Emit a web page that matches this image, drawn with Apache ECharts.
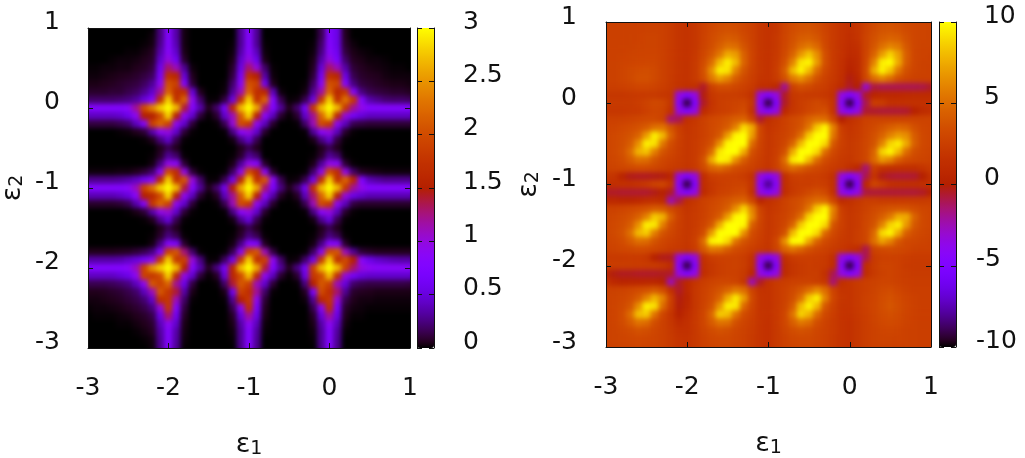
<!DOCTYPE html>
<html>
<head>
<meta charset="utf-8">
<title>eps1 eps2 maps</title>
<script src="https://cdn.jsdelivr.net/npm/echarts@6/dist/echarts.min.js"></script>
<style>
    body { margin: 0; background: #fff; }
    #clip {
        position: absolute; left: 0; top: 0; width: 1025px; height: 458px;
        clip-path: path('M88 28H410V348H88Z M606 22H931V347H606Z');
        background: linear-gradient(90deg, #000 0 500px, #c43700 500px);
    }
    #heat { width: 1025px; height: 458px; filter: blur(2.5px); }
    #main { position: absolute; left: 0; top: 0; width: 1025px; height: 458px; }
</style>
</head>
<body>
<div id="clip"><div id="heat"></div></div>
<div id="main"></div>
<script>
// rows run from eps2 = 1 (top) to eps2 = -3, columns from eps1 = -3 to eps1 = 1, step 0.1
const leftRows = [
[0,0,0,0,0,0,0,0,0,.25, .8,.35,.03,0,0,0,0,0,0,.3, .8,.3,0,0,0,0,0,0,0,.15, .75,.55,.05,0,0,0,0,0,0,0, 0],
[0,0,0,0,0,0,0,0,.02,.25, .8,.35,.03,0,0,0,0,0,0,.3, .8,.3,0,0,0,0,0,0,0,.15, .75,.55,.06,0,0,0,0,0,0,0, 0],
[0,0,0,0,0,0,0,.01,.03,.28, .8,.38,.03,0,0,0,0,0,.01,.3, .8,.3,.01,0,0,0,0,0,.01,.2, .8,.55,.08,.02,0,0,0,0,0,0, 0],
[0,0,0,0,0,.01,.01,.03,.06,.35, .85,.45,.04,0,0,0,0,0,.02,.35, .85,.4,.02,0,0,0,0,0,.02,.25, .85,.6,.12,.04,.02,.01,0,0,0,0, 0],
[0,0,0,.01,.02,.02,.03,.05,.08,.45, 1,.6,.08,0,0,0,0,0,.04,.45, 1,.55,.04,0,0,0,0,0,.04,.35, 1,.7,.2,.06,.04,.02,.02,.01,0,0, 0],
[.01,.01,.02,.02,.03,.03,.05,.07,.12,.6, 1.3,1.1,.3,.02,0,0,0,0,.08,.55, 1.3,1,.2,.01,0,0,0,0,.06,.5, 1.3,1.1,.35,.1,.06,.04,.03,.02,.01,.01, 0],
[.02,.02,.03,.04,.05,.06,.08,.12,.18,.7, 1.7,1.6,.5,.05,0,0,0,0,.12,.7, 1.7,1.5,.35,.02,0,0,0,0,.1,.65, 1.7,1.6,.55,.15,.08,.06,.05,.03,.02,.02, .02],
[.04,.04,.05,.06,.08,.1,.12,.18,.3,.9, 2.05,1.9,.75,.1,0,0,0,.01,.2,.85, 2.05,1.9,.6,.05,0,0,0,.01,.18,.85, 2.05,1.95,.8,.25,.12,.09,.07,.05,.04,.04, .03],
[.08,.08,.08,.1,.1,.14,.18,.28,.45,1.2, 2.2,1.7,1.7,.5,.05,0,0,.02,.3,1.1, 2.2,1.7,1.6,.4,.02,0,0,.03,.3,1.15, 2.2,1.6,1.8,.8,.25,.15,.12,.1,.08,.08, .06],
[.2,.2,.2,.2,.22,.25,.32,.5,.8,1.7, 2.8,1.7,2.2,.9,.2,.01,.01,.12,.55,1.7, 2.8,1.7,2.2,.8,.15,.01,.02,.15,.55,1.8, 2.8,1.7,2.3,1.8,.8,.35,.28,.22,.2,.2, .18],
[.78,.8,.8,.8,.8,.85,1.2,2,2.4,2.8, 3,2.7,1.4,.8,.35,.05,.2,.65,1.6,2.7, 3,2.6,1.3,.75,.3,.05,.2,.65,1.8,2.7, 3,2.7,1.8,1.2,.95,.8,.8,.8,.8,.8, .8],
[.42,.42,.42,.42,.45,.55,.9,1.5,1.5,2, 2.8,1.5,.9,.45,.1,.01,.08,.45,1.1,2.1, 2.8,1.5,.85,.4,.08,.01,.08,.45,1.2,2.2, 2.8,1.6,1,.65,.5,.42,.42,.42,.42,.42, .42],
[.12,.12,.12,.12,.15,.2,.4,.8,1.9,2.2, 1.9,.9,.45,.1,0,0,.01,.15,1,2, 1.8,.9,.4,.08,0,0,.01,.2,1.1,2, 1.8,.9,.4,.15,.12,.1,.1,.1,.1,.1, .1],
[0,0,0,0,.01,.02,.05,.1,.35,.9, 1,.45,.1,.01,0,0,0,.01,.25,.85, 1,.45,.08,0,0,0,0,.01,.3,.85, 1,.4,.08,.01,0,0,0,0,0,0, 0],
[0,0,0,0,0,0,0,.01,.05,.25, .45,.15,.01,0,0,0,0,0,.03,.25, .45,.15,0,0,0,0,0,0,.04,.25, .45,.12,.01,0,0,0,0,0,0,0, 0],
[0,0,0,0,0,0,0,0,0,.05, .15,.05,0,0,0,0,0,0,0,.05, .15,.05,0,0,0,0,0,0,0,.05, .15,.05,0,0,0,0,0,0,0,0, 0],
[0,0,0,0,0,0,0,0,.01,.08, .3,.2,.01,0,0,0,0,0,.01,.08, .3,.2,0,0,0,0,0,0,.01,.08, .3,.2,.01,0,0,0,0,0,0,0, 0],
[0,0,0,0,0,0,0,0,.03,.25, .95,.85,.1,0,0,0,0,0,.04,.3, .95,.8,.08,0,0,0,0,0,.04,.3, .95,.85,.1,.01,0,0,0,0,0,0, 0],
[.02,.02,.02,.02,.03,.03,.05,.1,.2,.85, 2,1.7,.95,.1,.01,0,0,.01,.18,.9, 2,1.6,.85,.08,0,0,0,.01,.2,.9, 2,1.7,.95,.2,.06,.04,.03,.02,.02,.02, .02],
[.28,.28,.28,.28,.3,.34,.42,.6,.85,1.6, 2.8,1.7,2.1,1,.2,.01,.01,.15,.6,1.6, 2.8,1.7,2.1,.85,.15,.01,.02,.15,.6,1.7, 2.8,1.7,2.2,1.6,.75,.38,.32,.28,.28,.28, .28],
[.78,.8,.8,.8,.8,.85,1.1,1.9,2.3,2.8, 3,2.7,1.4,.8,.3,.05,.2,.6,1.5,2.6, 3,2.6,1.3,.7,.25,.05,.2,.6,1.7,2.7, 3,2.7,1.8,1.2,.95,.8,.8,.8,.8,.8, .8],
[.38,.38,.38,.38,.42,.5,.85,1.5,1.6,2, 2.8,1.5,.9,.4,.08,.01,.06,.4,1.2,2.1, 2.8,1.5,.85,.35,.06,.01,.06,.4,1.3,2.2, 2.8,1.5,1,.55,.45,.38,.38,.38,.38,.38, .38],
[.08,.08,.08,.08,.1,.15,.35,.8,1.8,2.2, 1.9,.9,.45,.1,0,0,.01,.15,1.1,2, 1.8,.9,.4,.08,0,0,.01,.15,1.1,2, 1.8,.9,.4,.12,.08,.08,.08,.08,.08,.08, .08],
[0,0,0,0,0,.01,.04,.1,.35,.95, 1.05,.45,.1,.01,0,0,0,.01,.25,.85, 1,.45,.08,0,0,0,0,.01,.25,.85, 1,.4,.08,.01,0,0,0,0,0,0, 0],
[0,0,0,0,0,0,0,.01,.05,.28, .5,.15,.01,0,0,0,0,0,.03,.28, .5,.15,.01,0,0,0,0,0,.03,.28, .5,.15,.01,0,0,0,0,0,0,0, 0],
[0,0,0,0,0,0,0,0,0,.05, .15,.05,0,0,0,0,0,0,0,.05, .15,.05,0,0,0,0,0,0,0,.05, .15,.05,0,0,0,0,0,0,0,0, 0],
[0,0,0,0,0,0,0,0,.01,.08, .25,.15,.01,0,0,0,0,0,.01,.08, .25,.15,.01,0,0,0,0,0,.01,.08, .25,.15,.01,0,0,0,0,0,0,0, 0],
[0,0,0,0,0,0,0,0,.03,.25, .8,.7,.08,0,0,0,0,0,.03,.25, .8,.7,.06,0,0,0,0,0,.03,.25, .8,.75,.08,0,0,0,0,0,0,0, 0],
[.05,.05,.05,.05,.06,.07,.1,.15,.25,.75, 1.9,2.1,1.25,.2,.01,0,0,.01,.15,.85, 1.9,2.1,1.1,.12,0,0,0,.01,.18,.85, 2,2.1,1.1,.3,.1,.07,.05,.05,.05,.05, .05],
[.34,.34,.34,.34,.36,.42,.5,.65,.9,1.8, 2.8,1.8,1.9,1,.25,.01,.01,.18,.6,1.8, 2.8,1.7,1.9,.9,.2,.01,.02,.2,.6,1.8, 2.8,1.7,2,1.5,.85,.55,.45,.4,.36,.34, .34],
[.8,.8,.8,.8,.8,.85,1.1,1.9,2.5,2.8, 3,2.7,1.5,.8,.35,.06,.25,.65,1.6,2.7, 3,2.6,1.4,.75,.3,.06,.25,.65,1.9,2.7, 3,2.7,1.9,1.3,1,.9,.85,.85,.85,.85, .85],
[.42,.42,.42,.42,.48,.55,.9,1.9,1.8,2, 2.8,1.6,.95,.45,.1,.01,.06,.5,1.6,2, 2.7,1.6,.9,.4,.08,.01,.08,.55,1.8,2, 2.7,1.7,1,.65,.5,.45,.45,.45,.45,.45, .45],
[.15,.15,.15,.17,.2,.25,.4,.9,2.1,1.9, 2.2,1.2,.55,.12,0,0,.01,.2,1.4,2.1, 1.9,1.1,.45,.1,0,0,.01,.25,1.5,2.1, 1.9,1.1,.5,.2,.15,.13,.13,.13,.13,.13, .12],
[.05,.05,.06,.08,.1,.14,.2,.4,1.1,2.1, 1.8,1.4,.35,.04,0,0,0,.04,.6,1.9, 1.7,1.2,.2,.01,0,0,0,.06,.7,2, 1.7,1.3,.3,.08,.06,.05,.04,.04,.04,.04, .04],
[.03,.03,.04,.05,.07,.1,.14,.22,.45,1.7, 1.8,1.1,.2,.01,0,0,0,.01,.3,1.5, 1.8,.9,.1,0,0,0,0,.02,.3,1.6, 1.8,1,.15,.05,.03,.03,.02,.02,.02,.02, .02],
[.01,.02,.02,.03,.04,.06,.09,.14,.25,1, 1.8,.8,.12,0,0,0,0,0,.15,.85, 1.7,.7,.06,0,0,0,0,0,.15,.85, 1.7,.7,.08,.03,.02,.01,.01,.01,.01,.01, .01],
[0,.01,.01,.01,.02,.03,.05,.08,.14,.55, 1.3,.6,.07,0,0,0,0,0,.07,.5, 1.2,.55,.04,0,0,0,0,0,.07,.5, 1.2,.55,.05,.01,.01,0,0,0,0,0, 0],
[0,0,0,0,.01,.01,.03,.05,.09,.4, .9,.45,.04,0,0,0,0,0,.04,.35, .9,.4,.02,0,0,0,0,0,.04,.35, .9,.4,.03,0,0,0,0,0,0,0, 0],
[0,0,0,0,0,0,.01,.03,.06,.33, .8,.35,.03,0,0,0,0,0,.02,.3, .8,.32,.01,0,0,0,0,0,.02,.3, .8,.32,.01,0,0,0,0,0,0,0, 0],
[0,0,0,0,0,0,0,.01,.03,.3, .8,.33,.02,0,0,0,0,0,.01,.3, .8,.3,0,0,0,0,0,0,.01,.3, .8,.3,0,0,0,0,0,0,0,0, 0],
[0,0,0,0,0,0,0,0,.02,.28, .8,.3,.01,0,0,0,0,0,0,.28, .8,.28,0,0,0,0,0,0,0,.28, .8,.28,0,0,0,0,0,0,0,0, 0]
];

const rightRows = [
[2.6,2.6,2.6,2.6,2.6,2.6,2.6,2.5,2.3,1.9, 1.7,2,2.6,3,3.3,3.4,3.3,3,2.6,2, 1.7,2,2.8,3.3,3.6,3.6,3.3,2.8,2.3,1.8, 1.5,1.9,2.7,3.2,3.6,3.7,3.5,3.2,3,2.9, 2.8],
[2.6,2.6,2.6,2.6,2.7,2.7,2.7,2.6,2.3,1.9, 1.7,2,2.6,3.1,3.5,3.6,3.5,3,2.6,2, 1.7,2,2.8,3.4,3.7,3.8,3.5,2.9,2.3,1.8, 1.5,1.9,2.7,3.3,3.8,3.9,3.7,3.3,3,2.9, 2.8],
[2.6,2.6,2.6,2.7,2.7,2.8,2.8,2.6,2.3,1.9, 1.7,2,2.7,3.3,3.8,4.2,4,3.3,2.7,2, 1.7,2.1,2.9,3.6,4.2,4.4,3.9,3,2.3,1.8, 1.4,1.8,2.8,3.6,4.2,4.6,4.4,3.6,3,2.9, 2.8],
[2.6,2.6,2.7,2.7,2.8,2.8,2.8,2.6,2.3,1.9, 1.7,2,2.8,3.5,4.4,5.2,5,3.8,2.8,2, 1.7,2.1,3,3.9,5,5.6,4.8,3.2,2.3,1.7, 1.2,1.5,2.8,3.9,5.2,6,5.6,4,3,2.8, 2.8],
[2.6,2.7,2.7,2.8,2.9,2.9,2.9,2.7,2.3,1.9, 1.7,2.1,3,4,5.5,7.5,7,4.5,2.9,2, 1.7,2.2,3.2,4.6,6.8,8.3,6.5,3.6,2.3,1.7, 1,1.2,2.9,4.6,7,8.8,7.2,4.4,3,2.8, 2.7],
[2.6,2.7,2.8,2.9,3,3,3,2.7,2.3,1.9, 1.7,2.2,3.3,5,8,9.6,8,4.6,2.9,2, 1.7,2.3,3.6,6,9.3,9.8,7,3.6,2.3,1.6, .6,1,3,6,9.6,10,7.5,4.2,3,2.7, 2.7],
[2.6,2.7,2.9,3.2,3.4,3.5,3.2,2.7,2.3,1.9, 1.7,2.2,3.6,6.5,9.6,9.3,6,3.8,2.7,2, 1.7,2.4,4.2,8,9.8,8,5,3.1,2.2,1.5, .3,.9,3.2,7.5,9.7,8.3,5.5,3.6,2.9,2.7, 2.6],
[2.6,2.7,2.9,3.2,3.6,3.6,3.2,2.7,2.2,1.8, 1.7,2.2,3.4,5.5,7,6,4.2,3.2,2.5,1.9, 1.7,2.3,3.6,5.6,6.5,5.2,3.6,2.7,2.1,1.4, -.2,.6,3,5,6,5,3.6,3,2.7,2.6, 2.6],
[2.5,2.5,2.6,2.8,3,3,2.8,2.5,2.1,1.7, 1.5,1.5,-.5,2.6,3.4,3.4,3,2.6,2.2,1.4, 1.3,.8,-2,2.7,3.5,3.2,2.7,2.4,1.8,1, -.5,0,-3,-.8,-1,-1,-1,-1,-1,-.9, -.5],
[2,2,2,2.1,2.2,2.2,2.2,2,1.8,-3.5, -5,-3.5,-.2,2,2.4,2.4,2.4,2.2,1.6,-3.5, -5,-3.5,-.5,2,2.3,2.2,2.2,2,1.6,-3.5, -5,-3.5,-.5,.5,.8,.8,.8,.9,1,1, 1],
[2.2,2.2,2.2,2.2,2.4,2.8,3.2,3,2,-4.5, -9,-5,-.5,1.8,2.4,2.6,2.8,3,2,-4.5, -9,-5,-.5,1.9,2.4,2.8,3.2,2.8,1.8,-4.5, -9,-5,-1,2.5,2.4,1.6,1.6,1.6,1.6,1.6, 1.6],
[2,2,2,2.1,2.2,2.6,3,2.8,1.6,-3.5, -5,-3.5,1,2,2.4,2.6,3,3.4,1.6,-3.5, -5,-3.5,.8,2,2.4,3,3.4,3.6,1.8,-3.5, -5,-3.5,-.6,-.6,-.7,-.7,-.7,-.6,.2,1, 1.4],
[2.6,2.6,2.7,2.8,3,3.2,3.2,2.8,-1.5,-1, 1.5,2,2.6,3.1,3.4,3.8,4.4,4.6,2.8,-.6, 1.4,2,2.6,3.2,3.6,4.6,5.2,5,3,0, 1.4,2,2.6,2.8,2.8,2.8,2.8,2.8,2.8,2.8, 2.8],
[2.8,2.9,3.1,3.4,3.7,4.2,5.2,5.4,3.8,2.4, 1.9,2.2,2.6,3.2,3.6,4.2,6,9,7.5,3, 1.8,2.2,2.6,3.2,3.8,5.5,8.5,9.8,6,2.4, 1.8,2.2,2.8,3.2,3.8,4.4,4.8,4.6,3.6,3, 2.9],
[2.9,3.1,3.4,3.8,4.6,7,9.6,8,4.5,2.6, 2,2.2,2.6,3.2,4,7,9.8,10,7,3, 2,2.4,2.8,3.4,5,8.5,10,10,5.5,2.6, 2,2.3,2.9,3.6,4.6,6,7,6.5,4.2,3.1, 2.9],
[2.9,3.1,3.5,4.2,6.5,9.6,9.2,5.5,3.4,2.5, 2,2.3,2.8,3.6,6.5,9.8,10,10,5,2.8, 2,2.4,3,4.6,8,10,10,9,4,2.6, 2.1,2.4,3,3.8,6,8.8,9.6,7.5,4.4,3.1, 2.9],
[2.9,3.1,3.6,5,7.8,8.3,5.8,3.8,3,2.4, 2,2.3,3,5,9.4,10,10,7.5,3.6,2.6, 2,2.5,3.6,7.5,10,10,9,5,3.2,2.4, 2.1,2.4,3,4.6,8.8,9.8,8,5,3.5,3, 2.8],
[2.8,3,3.4,4.2,5.2,5,3.8,3,2.6,2.3, 2,2.3,3.6,7.5,9.8,9.5,6.5,4.2,3,2.4, 2,2.6,5,9.5,10,8,5,3.4,2.7,2.2, 2,2.4,3,4.8,6.8,6,4.2,3.4,3,2.8, 2.7],
[2.7,2.8,3,3.2,3.4,3.3,3,2.7,2.3,2.1, 1.9,2.2,3.2,4.6,5,4.2,3.4,3,2.6,2.2, 1.9,2.6,4,5,4.4,3.6,3.1,2.7,2.3,2, 1.4,.8,-1.5,2.4,1.6,1.4,1.4,1.4,1.4,1.8, 2.2],
[2,1.8,.5,-.3,-.4,-.4,-.3,-.2,.5,-3.5, -5,-3.5,1.2,2.4,2.6,2.6,2.6,2.3,1.6,-3.5, -5,-3.5,1.4,2.5,2.6,2.5,2.5,2.2,1.5,-3.5, -5,-3.5,-1,1.8,-.3,-.6,-.7,-.7,-.6,0, 1.5],
[1.2,1.4,1.6,1.6,1.8,2.2,2.8,3,1.8,-4.5, -9,-5,1.2,2,2.4,2.6,2.8,2.8,1.8,-4.5, -8,-4.5,1.2,2.2,2.4,2.4,2.6,2.4,1.6,-4.5, -9,-5,.8,3,2.4,1.6,1.4,1.4,1.4,1.5, 1.6],
[-.5,-.5,-.6,-.6,-.6,-.6,-.3,.2,-.5,-3.5, -5,-3.5,1,2,2.6,2.8,3.2,3.4,1.6,-3.5, -5,-3.5,1.2,2.2,2.6,3.2,3.6,3.2,1.6,-3.5, -5,-3.5,-.8,-.7,-.7,-.7,-.7,-.7,-.7,-.5, .2],
[.8,.8,.6,.6,.8,1.2,1.4,1,-2.5,-1, 1.4,2,2.6,3,3.4,3.8,4.4,4.6,3,.5, 1.5,2,2.6,3.2,3.6,4.4,5,4.8,3,1, 1.5,2,2.4,2.4,2.3,2.3,2.3,2.3,2.3,2.3, 2.4],
[2.6,2.7,2.9,3.1,3.4,3.7,4.2,4,3.2,2.4, 1.9,2.2,2.6,3.2,3.6,4.4,6.5,8.8,6,2.8, 1.9,2.2,2.7,3.2,3.8,5.5,8.6,9.8,6,2.5, 1.9,2.2,2.7,3.1,3.5,3.8,3.9,3.8,3.4,3, 2.9],
[2.8,3,3.3,3.7,4.5,6,8.5,7.8,4.4,2.6, 2,2.3,2.7,3.3,4.2,7,9.8,10,6.5,3, 2,2.4,2.8,3.5,5,8.8,10,10,5.5,2.6, 2,2.3,2.9,3.5,4.4,5.6,7.6,7.5,4.6,3.2, 2.9],
[2.9,3.1,3.5,4.2,6.5,9.6,9.4,5.8,3.4,2.5, 2,2.3,2.9,4,7.5,10,10,9.8,4.4,2.8, 2,2.4,3,4.6,8.5,10,10,9,3.8,2.6, 2,2.3,3,3.8,6,8.8,9.6,6.8,4,3.1, 2.9],
[2.9,3.2,3.7,5.2,8,8.6,5.8,3.8,3,2.4, 2,2.4,3.4,7,10,10,10,6.5,3.4,2.6, 2,2.5,3.6,8,10,10,9,4.8,3.2,2.4, 2,2.4,3,4.8,9,9.8,7.5,4.4,3.4,3, 2.8],
[2.8,3,3.4,4.2,5.2,5,3.8,3,2.6,2.3, 2,2.6,5,9.8,10,9,5.4,3.8,3,2.4, 2,3,6.5,10,10,7.4,4.6,3.3,2.7,2.2, 2,2.4,3,5.2,7.2,6,4,3.2,3,2.8, 2.7],
[2.7,2.8,3,3.2,3.4,3.3,3,2.7,2.3,2.1, 1.9,2.4,4,5.6,5.4,4.2,3.4,3,2.5,2.1, 1.9,2.8,4.6,5.4,4.6,3.6,3,2.7,2.3,2, 1.6,1.2,-1,2.8,3.2,3.4,3.2,3,2.7,2.6, 2.6],
[2.2,2.2,2.2,2.3,2.3,2,.2,-.3,-.4,-3.5, -5,-3.5,1.6,2.4,2.6,2.7,2.7,2.4,1.6,-3.5, -5,-3.5,1.4,2.3,2.5,2.5,2.4,2.2,1.4,-3.5, -5,-3.5,-1,2.2,2.6,2.7,2.6,2.4,2.3,2.3, 2.3],
[2.4,2.4,2.4,2.4,2.4,2.3,2.3,2,1.2,-4.5, -9,-5,1.4,2,2.4,2.6,2.7,2.4,1.4,-4.5, -9,-5,1,1.9,2.2,2.4,2.3,2.1,1.2,-4.5, -9,-5,1.2,2.3,2.8,2.9,2.6,2.3,2.2,2.2, 2.2],
[.5,-.2,-.4,-.4,-.5,-.5,-.5,-.4,-.5,-3.5, -5,-3.5,1.2,2,2.4,2.6,2.6,2.2,.8,-3.5, -5,-3.5,1,1.9,2.2,2.4,2.4,1.6,-1,-3.5, -5,-3.5,1.2,2.2,2.7,2.9,2.6,2.4,2.3,2.3, 2.3],
[1.6,.8,.4,.5,.5,.6,.6,.2,-2.5,-.5, .8,1.8,2.4,2.8,3,3,2.8,2,-2.5,-.5, 1.6,2.2,2.4,2.6,2.7,2.7,2.4,2,-1.5,1.4, 1.8,2.2,2.5,2.7,2.9,2.9,2.7,2.5,2.4,2.4, 2.4],
[2.6,2.7,2.8,3,3.3,3.6,4,3.4,1.5,-.5, .8,2,2.6,3.2,3.8,4.6,5.6,5,2.8,1.7, 1.7,2.2,2.6,3.2,3.9,5,6.2,5,2.8,1.8, 1.8,2.2,2.5,2.8,3.2,3.4,3,2.7,2.5,2.5, 2.5],
[2.7,2.8,3,3.4,4.2,6,7.8,6,2.6,-.2, .6,2,2.7,3.4,4.6,7.5,9.4,7,3.2,1.9, 1.7,2.2,2.7,3.5,5.2,8.5,9.6,6,3,2, 1.8,2.2,2.6,2.9,3.4,3.7,3.3,2.9,2.6,2.5, 2.5],
[2.7,2.9,3.2,3.9,6.4,9.6,9.2,5,2.4,-.1, .8,2,2.8,3.8,6.6,9.6,9.4,4.8,2.9,1.9, 1.7,2.2,2.8,4.2,8,9.7,8,4,2.7,1.9, 1.8,2.2,2.6,3,3.5,3.9,3.5,3,2.7,2.5, 2.5],
[2.7,2.9,3.4,5,8.2,8.6,5.4,3,1.9,.2, 1.2,2.1,3,4.8,8.6,8.2,5.4,3.4,2.6,1.9, 1.7,2.2,3,5.4,8.8,7.8,5,3.2,2.5,1.8, 1.7,2.1,2.5,2.9,3.3,3.6,3.3,2.9,2.6,2.5, 2.5],
[2.7,2.9,3.3,4.2,5.4,5,3.5,2.7,2,1, 1.5,2.2,3,4.2,5.4,5.2,3.6,2.9,2.4,1.9, 1.6,2.2,3,4.4,5.6,5,3.5,2.8,2.3,1.8, 1.6,2,2.4,2.8,3.1,3.3,3.1,2.8,2.6,2.5, 2.5],
[2.7,2.8,3,3.3,3.7,3.5,3,2.6,2.1,1.6, 1.6,2.1,2.8,3.3,3.7,3.5,3,2.7,2.3,1.8, 1.6,2.1,2.8,3.4,3.7,3.5,3,2.7,2.3,1.8, 1.6,2,2.4,2.7,2.9,3,2.9,2.7,2.6,2.5, 2.5],
[2.7,2.8,2.9,3,3.1,3,2.9,2.6,2.2,1.8, 1.7,2.1,2.6,3,3.1,3.1,2.9,2.6,2.2,1.8, 1.6,2.1,2.6,3,3.1,3.1,2.9,2.6,2.2,1.8, 1.6,2,2.4,2.7,2.8,2.8,2.8,2.7,2.6,2.5, 2.5],
[2.7,2.7,2.8,2.9,3,2.9,2.8,2.6,2.2,1.8, 1.7,2.1,2.6,2.9,3,3,2.8,2.6,2.2,1.8, 1.6,2.1,2.6,2.9,3,3,2.8,2.6,2.2,1.8, 1.6,2,2.4,2.6,2.7,2.7,2.7,2.7,2.6,2.5, 2.5]
];

const FONT = 'DejaVu Sans';
const boxLeft = { left: 88, top: 28, width: 322, height: 320 };
const boxRight = { left: 606, top: 22, width: 325, height: 325 };
const barLeft = { left: 417, top: 28, width: 17, height: 320 };
const barRight = { left: 939, top: 22, width: 17, height: 325 };

// gnuplot default pm3d palette (rgbformulae 7,5,15)
const palette = [];
for (let n = 0; n <= 64; n++) {
    const t = n / 64;
    const r = Math.round(255 * Math.sqrt(t));
    const g = Math.round(255 * t * t * t);
    const b = Math.round(255 * Math.max(0, Math.sin(2 * Math.PI * t)));
    palette.push(`rgb(${r},${g},${b})`);
}

function cells(rows) {
    const out = [];
    rows.forEach((row, j) => row.forEach((v, i) => out.push([i, j, v])));
    return out;
}

// heat layer: one band per grid point, so the band centres sit on the real axis positions
const heat = echarts.init(document.getElementById('heat'));
const bands = leftRows.map((_, i) => i);
function heatGrid(b) {
    const dx = b.width / 40, dy = b.height / 40;
    return { left: b.left - dx / 2, top: b.top - dy / 2, width: b.width + dx, height: b.height + dy, outerBoundsMode: 'none' };
}
heat.setOption({
    animation: false,
    grid: [heatGrid(boxLeft), heatGrid(boxRight)],
    xAxis: [0, 1].map(k => ({ type: 'category', gridIndex: k, data: bands, show: false })),
    yAxis: [0, 1].map(k => ({ type: 'category', gridIndex: k, data: bands, inverse: true, show: false })),
    visualMap: [
        { show: false, seriesIndex: 0, min: 0, max: 3, inRange: { color: palette } },
        { show: false, seriesIndex: 1, min: -10, max: 10, inRange: { color: palette } }
    ],
    series: [
        { type: 'heatmap', xAxisIndex: 0, yAxisIndex: 0, data: cells(leftRows), progressive: 0 },
        { type: 'heatmap', xAxisIndex: 1, yAxisIndex: 1, data: cells(rightRows), progressive: 0 }
    ]
});

// axes, colour bars and all text go in the sharp layer on top
const name1 = '{e|ε}{s|1}';
const name2 = '{e|ε}{s|2}';
const nameRich = {
    e: { fontFamily: FONT, fontSize: 27, color: '#111' },
    s: { fontFamily: FONT, fontSize: 19, color: '#111', padding: [10, 0, 0, 0] }
};
const tickLine = { show: true, inside: true, length: 5, lineStyle: { color: '#111', width: 1 } };
const edge = { show: true, onZero: false, lineStyle: { color: '#111', width: 1 } };
const labelStyle = { fontFamily: FONT, fontSize: 25, color: '#111', hideOverlap: false };

// tick labels in the reference sit a few px above their ticks
function lifted(px) {
    return { verticalAlign: 'bottom', lineHeight: px * 2 };
}

function plotAxes(k, gapX, gapY, marginY, liftY) {
    const common = { type: 'value', gridIndex: k, min: -3, max: 1, interval: 1, z: 5, splitLine: { show: false }, axisLine: edge, axisTick: tickLine };
    return {
        x: [
            { ...common, position: 'bottom', name: name1, nameLocation: 'middle', nameGap: gapX, nameMoveOverlap: false,
              nameTextStyle: { rich: nameRich }, axisLabel: { ...labelStyle, margin: 28 } },
            { ...common, position: 'top', axisLabel: { show: false } }
        ],
        y: [
            { ...common, position: 'left', name: name2, nameLocation: 'middle', nameRotate: 90, nameGap: gapY, nameMoveOverlap: false,
              nameTextStyle: { rich: nameRich }, axisLabel: { ...labelStyle, ...lifted(liftY), margin: marginY } },
            { ...common, position: 'right', axisLabel: { show: false } }
        ]
    };
}

function barAxes(k, min, max, step, margin, fmt) {
    const common = { type: 'value', gridIndex: k, min: min, max: max, interval: step, z: 5, splitLine: { show: false }, axisLine: edge, axisTick: tickLine };
    return {
        x: [{ type: 'value', gridIndex: k, min: 0, max: 1, show: false }],
        y: [
            { ...common, position: 'right', axisLabel: { ...labelStyle, ...lifted(6), margin: margin, formatter: fmt } },
            { ...common, position: 'left', axisLabel: { show: false } }
        ]
    };
}

const a = plotAxes(0, 82, 61, 28, 6);
const b = barAxes(1, 0, 3, 0.5, 29, v => String(v));
const c = plotAxes(2, 82, 63, 29, 5);
// "5" and "10" start where the digits of "-5" and "-10" start, so positives get a leading space
const d = barAxes(3, -10, 10, 5, 20, v => (v < 0 ? String(v) : '\u00a0' + v));

const main = echarts.init(document.getElementById('main'));
main.setOption({
    animation: false,
    grid: [
        { ...boxLeft, show: false, outerBoundsMode: 'none' },
        { ...barLeft, show: false, outerBoundsMode: 'none' },
        { ...boxRight, show: false, outerBoundsMode: 'none' },
        { ...barRight, show: false, outerBoundsMode: 'none' }
    ],
    xAxis: [...a.x, ...b.x, ...c.x, ...d.x],
    yAxis: [...a.y, ...b.y, ...c.y, ...d.y],
    visualMap: [
        { type: 'continuous', min: 0, max: 3, left: barLeft.left, top: barLeft.top, itemWidth: barLeft.width, itemHeight: barLeft.height,
          padding: 0, calculable: false, hoverLink: false, seriesIndex: [], inRange: { color: palette }, z: 3 },
        { type: 'continuous', min: -10, max: 10, left: barRight.left, top: barRight.top, itemWidth: barRight.width, itemHeight: barRight.height,
          padding: 0, calculable: false, hoverLink: false, seriesIndex: [], inRange: { color: palette }, z: 3 }
    ],
    series: []
});
</script>
</body>
</html>
